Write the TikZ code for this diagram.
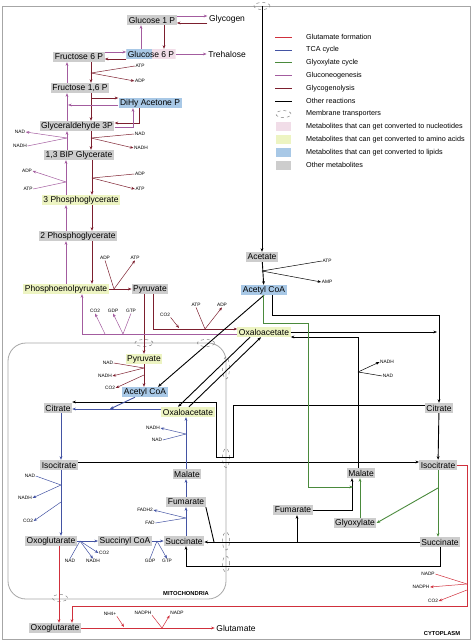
\documentclass[tikz,border=0pt]{standalone}
\usepackage{fontspec}
\setmainfont{Liberation Sans}
\usetikzlibrary{arrows.meta,shapes.geometric,calc}

\definecolor{glut}{HTML}{D0303C}
\definecolor{tca}{HTML}{4353A3}
\definecolor{glyx}{HTML}{4A8A3C}
\definecolor{gneo}{HTML}{A35C9F}
\definecolor{gcog}{HTML}{7C1F2E}
\definecolor{nucl}{HTML}{F1DDE8}
\definecolor{amin}{HTML}{EDF4C2}
\definecolor{lipd}{HTML}{A8C8E6}
\definecolor{othr}{HTML}{CDCDCD}

\begin{document}
\begin{tikzpicture}[x=1pt,y=-1pt,
    >={Stealth[length=3.6pt,width=2.8pt]},
    met/.style={inner xsep=1.5pt,inner ysep=1pt,minimum height=10pt,font=\fontsize{8.5}{9}\selectfont},
    oth/.style={met,fill=othr},
    nuc/.style={met,fill=nucl},
    ami/.style={met,fill=amin},
    lip/.style={met,fill=lipd},
    sm/.style={inner sep=0.5pt,font=\fontsize{4.8}{5}\selectfont},
    leg/.style={anchor=west,inner sep=0pt,font=\fontsize{7.2}{8}\selectfont},
    lk/.style={line width=0.9pt},
    br/.style={line width=0.5pt},
    tp/.style={draw=gray,dashed,ellipse,line width=0.5pt,inner sep=0pt}]
    \useasboundingbox (0,0) rectangle (474,644);
    % Frame and mitochondria
    \draw[gray!70,line width=0.8pt] (2,6) rectangle (470,639);
    \draw[gray!70,line width=0.8pt,rounded corners=18pt] (8,343) rectangle (226,599);
    \node[font=\fontsize{5.8}{6}\selectfont\bfseries] (mito) at (186,593) {MITOCHONDRIA};
    \node[font=\fontsize{5.8}{6}\selectfont\bfseries] (cyto) at (442,633) {CYTOPLASM};
    % Transporters
    \node[tp,minimum width=16pt,minimum height=7pt] (tr0) at (262,6) {};
    \node[tp,minimum width=18pt,minimum height=7pt] (tr1) at (144,343) {};
    \node[tp,minimum width=17pt,minimum height=7pt] (tr2) at (206,343) {};
    \node[tp,minimum width=7pt,minimum height=22pt] (tr3) at (226,368) {};
    \node[tp,minimum width=7pt,minimum height=19pt] (tr4) at (226,458) {};
    \node[tp,minimum width=7pt,minimum height=18pt] (tr5) at (226,541) {};
    \node[tp,minimum width=7pt,minimum height=16pt] (tr6) at (226,564) {};
    \node[tp,minimum width=15pt,minimum height=7pt] (tr7) at (60,598) {};

    % Legend
    \foreach \c/\t [count=\i] in {glut/Glutamate formation,tca/TCA cycle,glyx/Glyoxylate cycle,gneo/Gluconeogenesis,gcog/Glycogenolysis,black/Other reactions} {
        \draw[\c,line width=0.9pt] (275,{24.5+12.8*\i}) -- (292,{24.5+12.8*\i});
        \node[leg] (l\i) at (306,{24.5+12.8*\i}) {\t};
    }
    \node[tp,minimum width=15pt,minimum height=7pt] (l7a) at (283.5,114.1) {};
    \node[leg] (l7) at (306,114.1) {Membrane transporters};
    \foreach \f/\t [count=\i from 8] in {nucl/nucleotides,amin/amino acids,lipd/lipids} {
        \fill[\f] (276,{20+12.8*\i}) rectangle (291,{29+12.8*\i});
        \node[leg] (l\i) at (306,{24.5+12.8*\i}) {Metabolites that can get converted to \t};
    }
    \fill[othr] (276,160.8) rectangle (291,169.8);
    \node[leg] (l11) at (306,165.3) {Other metabolites};

    % Glycolysis metabolites
    \node (g1p) at (152,20) [oth] {Glucose 1 P};
    \node (glycogen) at (227,19) [met] {Glycogen};
    \node (g6p) at (151,54) [met,path picture={
        \fill[nucl] (path picture bounding box.south west) rectangle (path picture bounding box.north east);
        \fill[lipd] (path picture bounding box.south west) rectangle ($(path picture bounding box.north west)!0.52!(path picture bounding box.north east)$);}] {Glucose 6 P};
    \node (trehalose) at (227,54) [met] {Trehalose};
    \node (f6p) at (79,57) [oth] {Fructose 6 P};
    \node (f16p) at (80,88) [oth] {Fructose 1,6 P};
    \node (dhap) at (150,103) [lip] {DiHy Acetone P};
    \node (g3p) at (77,126) [oth] {Glyceraldehyde 3P};
    \node (bpg) at (79,155) [oth] {1,3 BIP Glycerate};
    \node (pg3) at (81,200) [ami] {3 Phosphoglycerate};
    \node (pg2) at (78,236) [oth] {2 Phosphoglycerate};
    \node (pep) at (66,289) [ami] {Phosphoenolpyruvate};
    \node (pyrc) at (150,289) [oth] {Pyruvate};
    \node (oaac) at (264,332) [ami] {Oxaloacetate};
    % Cytoplasm metabolites
    \node (acc) at (262,257) [oth] {Acetate};
    \node (accoac) at (264,290) [lip] {Acetyl CoA};
    \node (citc) at (439,408) [oth] {Citrate};
    \node (isoc) at (438,465) [oth] {Isocitrate};
    \node (malc) at (361,473) [oth] {Malate};
    \node (glyox) at (355,523) [oth] {Glyoxylate};
    \node (fumc) at (293,510) [oth] {Fumarate};
    \node (succc) at (440,542) [oth] {Succinate};
    \node (oxoc) at (55,628) [oth] {Oxoglutarate};
    \node (glu) at (236,628) [met] {Glutamate};
    % Mitochondria metabolites
    \node (pyrm) at (144,359) [ami] {Pyruvate};
    \node (accoam) at (145,392) [lip] {Acetyl CoA};
    \node (citm) at (58,408) [oth] {Citrate};
    \node (oaam) at (188,412) [ami] {Oxaloacetate};
    \node (isom) at (59,465) [oth] {Isocitrate};
    \node (malm) at (187,474) [oth] {Malate};
    \node (fumm) at (186,502) [oth] {Fumarate};
    \node (succm) at (184,541) [oth] {Succinate};
    \node (scoa) at (125,541) [oth] {Succinyl CoA};
    \node (oxom) at (51,541) [oth] {Oxoglutarate};

    % Cofactors
    \node (atp1) at (140,66) [sm] {ATP};
    \node (adp1) at (140,81) [sm] {ADP};
    \node (nad1) at (20,132) [sm] {NAD};
    \node (nadh1) at (20,146) [sm] {NADH};
    \node (nad1r) at (140,134) [sm] {NAD};
    \node (nadh1r) at (141,148) [sm] {NADH};
    \node (adp3) at (27,171) [sm] {ADP};
    \node (atp3) at (28,189) [sm] {ATP};
    \node (adp2) at (140,174) [sm] {ADP};
    \node (atp2) at (140,189) [sm] {ATP};
    \node (adp4) at (105,258) [sm] {ADP};
    \node (atp4) at (135,258) [sm] {ATP};
    \node (co2a) at (95,311) [sm] {CO2};
    \node (gdp1) at (113,311) [sm] {GDP};
    \node (gtp1) at (131,311) [sm] {GTP};
    \node (co2b) at (165,315) [sm] {CO2};
    \node (atp6) at (196,305) [sm] {ATP};
    \node (adp6) at (222,305) [sm] {ADP};
    \node (atp5) at (327,261) [sm] {ATP};
    \node (amp1) at (327,282) [sm] {AMP};
    \node (nad2) at (108,363) [sm] {NAD};
    \node (nadh2) at (105,376) [sm] {NADH};
    \node (co2c) at (110,388) [sm] {CO2};
    \node (nadh3) at (387,362) [sm] {NADH};
    \node (nad3) at (388,376) [sm] {NAD};
    \node (nadh5) at (153,428) [sm] {NADH};
    \node (nad5) at (157,440) [sm] {NAD};
    \node (nad4) at (30,476) [sm] {NAD};
    \node (nadh4) at (25,498) [sm] {NADH};
    \node (co2d) at (28,521) [sm] {CO2};
    \node (fadh2) at (145,510) [sm] {FADH2};
    \node (fad) at (150,523) [sm] {FAD};
    \node (nad6) at (70,561) [sm] {NAD};
    \node (nadh6) at (93,561) [sm] {NADH};
    \node (co2e) at (104,553) [sm] {CO2};
    \node (gdp2) at (150,561) [sm] {GDP};
    \node (gtp2) at (167,561) [sm] {GTP};
    \node (nadp1) at (428,574) [sm] {NADP};
    \node (nadph1) at (421,587) [sm] {NADPH};
    \node (co2f) at (433,601) [sm] {CO2};
    \node (nh4) at (110,614) [sm] {NH4+};
    \node (nadph2) at (143,613) [sm] {NADPH};
    \node (nadp2) at (177,613) [sm] {NADP};

    % Branch points
    \coordinate (k1) at (91,73);
    \coordinate (k2) at (91,98);
    \coordinate (k3) at (67,138);
    \coordinate (k4) at (91,138);
    \coordinate (k5) at (66,182);
    \coordinate (k6) at (92,178);
    \coordinate (k7) at (114,289);
    \coordinate (k8) at (105,334);
    \coordinate (k9) at (123,334);
    \coordinate (k10) at (179,328);
    \coordinate (k11) at (205,329);
    \coordinate (k12) at (262,271);
    \coordinate (k13) at (144,368);
    \coordinate (k14) at (144,375);
    \coordinate (k15) at (358,372);
    \coordinate (k16) at (437,332);
    \coordinate (k17) at (186,434);
    \coordinate (k18) at (61,485);
    \coordinate (k19) at (61,502);
    \coordinate (k20) at (80,541);
    \coordinate (k21) at (157,541);
    \coordinate (k22) at (186,518);
    \coordinate (k23) at (467,584);
    \coordinate (k24) at (467,590);
    \coordinate (k25) at (124,627);
    \coordinate (k26) at (162,628);
    \coordinate (k27) at (110,409);
    \coordinate (k28) at (438,488);
    \coordinate (k29) at (297,542);
    \coordinate (k30) at (214,542);
    \coordinate (k31) at (353,487);
    \coordinate (k32) at (68,105);

    % Glycogenolysis / glycolysis
    \draw[gcog,lk,->] (glycogen.west |- 0,23) -- (g1p.east |- 0,23);
    \draw[gcog,lk,->] (g1p.south -| 164,0) -- (g6p.north -| 164,0);
    \draw[gcog,lk,->] (g6p.west |- 0,59) -- (f6p.east |- 0,59);
    \draw[gcog,lk,->] (f6p.south -| 91,0) -- (f16p.north -| 91,0);
    \draw[gcog,br] (atp1.west) -- (k1);
    \draw[gcog,br,->] (k1) -- (adp1.west);
    \draw[gcog,lk,->] (f16p.south -| 91,0) -- (g3p.north -| 91,0);
    \draw[gcog,lk,->] (k2) -- (dhap.west |- k2);
    \draw[gcog,lk,->] (dhap.south -| 139,0) |- (g3p.east |- 0,123);
    \draw[gcog,lk,->] (g3p.south -| 91,0) -- (bpg.north -| 91,0);
    \draw[gcog,br] (nad1r.west) -- (k4);
    \draw[gcog,br,->] (k4) -- (nadh1r.west);
    \draw[gcog,lk,->] (bpg.south -| 92,0) -- (pg3.north -| 92,0);
    \draw[gcog,br] (adp2.west) -- (k6);
    \draw[gcog,br,->] (k6) -- (atp2.west);
    \draw[gcog,lk,->] (pg3.south -| 92,0) -- (pg2.north -| 92,0);
    \draw[gcog,lk,->] (pg2.south -| 92,0) -- (pep.north -| 92,0);
    \draw[gcog,lk,->] (pep.east) -- (pyrc.west);
    \draw[gcog,br] (adp4.south) -- (k7);
    \draw[gcog,br,->] (k7) -- (atp4.south);
    \draw[gcog,lk,->] (pyrc.south -| 153,0) |- (oaac.west |- 0,329);
    \draw[gcog,br,->] (co2b.south east) -- (k10);
    \draw[gcog,br] (atp6.south) -- (k11);
    \draw[gcog,br,->] (k11) -- (adp6.south);
    \draw[gcog,lk,->] (pyrc.south -| 144,0) -- (pyrm.north -| 144,0);
    \draw[gcog,lk,->] (pyrm.south -| 144,0) -- (accoam.north -| 144,0);
    \draw[gcog,br] (nad2.east) -- (k13);
    \draw[gcog,br,->] (k13) -- (nadh2.east);
    \draw[gcog,br,->] (k14) -- (co2c.east);

    % Gluconeogenesis
    \draw[gneo,lk,->] (g1p.east |- 0,16) -- (glycogen.west |- 0,16);
    \draw[gneo,lk,->] (g6p.north -| 141,0) -- (g1p.south -| 141,0);
    \draw[gneo,lk,->] (g6p.east) -- (trehalose.west);
    \draw[gneo,lk,->] (f6p.east |- 0,52) -- (g6p.west |- 0,52);
    \draw[gneo,lk,->] (f16p.north -| 67,0) -- (f6p.south -| 67,0);
    \draw[gneo,lk,->] (dhap.west |- k32) -- (k32);
    \draw[gneo,lk,->] (g3p.north -| 67,0) -- (f16p.south -| 67,0);
    \draw[gneo,lk,->] (g3p.east |- 0,127) -| (dhap.south -| 133,0);
    \draw[gneo,lk,->] (bpg.north -| 67,0) -- (g3p.south -| 67,0);
    \draw[gneo,br] (nadh1.east) -- (k3);
    \draw[gneo,br,->] (k3) -- (nad1.east);
    \draw[gneo,lk,->] (pg3.north -| 66,0) -- (bpg.south -| 66,0);
    \draw[gneo,br] (atp3.east) -- (k5);
    \draw[gneo,br,->] (k5) -- (adp3.east);
    \draw[gneo,lk,->] (pg2.north -| 66,0) -- (pg3.south -| 66,0);
    \draw[gneo,lk,->] (pep.north -| 66,0) -- (pg2.south -| 66,0);
    \draw[gneo,lk,->] (oaac.west |- 0,334) -| (pep.south -| 82,0);
    \draw[gneo,br,->] (k8) -- (co2a.south);
    \draw[gneo,br,->] (k9) -- (gdp1.south);
    \draw[gneo,br] (gtp1.south) -- (k9);

    % Other reactions
    \draw[lk,->] (tr0.center) -- (acc.north);
    \draw[lk,->] (acc) -- (accoac);
    \draw[br] (atp5.west) -- (k12);
    \draw[br,->] (k12) -- (amp1.west);
    \draw[lk,->] (accoac.south -| 272,0) -- (272,315) -| (citc.north);
    \draw[lk,->] (oaac.east |- 0,332) -- (k16);
    \draw[lk,->] (malc.north -| 358,0) |- (oaac.east |- 0,337);
    \draw[br,->] (k15) -- (nadh3.west);
    \draw[br] (nad3.west) -- (k15);
    \draw[lk,->] (accoac.south) -- (accoam.north -| 158,0);
    \draw[lk,->] (oaac.south -| 250,0) -- (oaam.north -| 178,0);
    \draw[lk,->] (oaam.north -| 189,0) -- (oaac.south -| 261,0);
    \draw[lk,->] (citc.west |- 0,405) -- (233,405) -- (233,457) -- (216,457) -- (216,402) -- (citm.east |- 0,402);
    \draw[lk,->] (isom.east |- 0,462) -- (isoc.west |- 0,462);
    \draw[lk,->] (citc) -- (isoc);
    \draw[lk,->] (fumc.east) -| (malc.south -| 352,0);
    \draw[lk,->] (succc.west |- 0,542) -- (succm.east |- 0,542);
    \draw[lk,->] (k29) -- (fumc.south -| k29);
    \draw[lk] (fumm.south east) -- (k30);
    \draw[lk,->] (succc.south) -- (440,566) -| (succm.south -| 186,0);

    % Glyoxylate cycle
    \draw[glyx,lk,->] (accoac.south -| 263,0) -- (263,323) -| (308,487) -- (k31);
    \draw[glyx,lk,->] (glyox.north -| 360,0) -- (malc.south -| 360,0);
    \draw[glyx,lk,->] (isoc.south) -- (succc.north -| isoc.south);
    \draw[glyx,lk,->] (k28) -- (glyox.east);

    % TCA cycle
    \draw[tca,lk,->] (oaam.west |- 0,409) -- (citm.east |- 0,409);
    \draw[tca,lk,->] (accoam.south -| 135,0) -- (k27);
    \draw[tca,lk,->] (citm.south -| 61,0) -- (isom.north -| 61,0);
    \draw[tca,lk,->] (isom.south -| 61,0) -- (oxom.north -| 61,0);
    \draw[tca,br] (nad4.east) -- (k18);
    \draw[tca,br,->] (k18) -- (nadh4.east);
    \draw[tca,br,->] (k19) -- (co2d.east);
    \draw[tca,lk,->] (oxom.east) -- (scoa.west);
    \draw[tca,br] (nad6.north) -- (k20);
    \draw[tca,br,->] (k20) -- (nadh6.north);
    \draw[tca,br,->] (k20) -- (co2e.west);
    \draw[tca,lk,->] (scoa.east) -- (succm.west);
    \draw[tca,br] (gdp2.north) -- (k21);
    \draw[tca,br,->] (k21) -- (gtp2.north);
    \draw[tca,lk,->] (succm.north -| 186,0) -- (fumm.south -| 186,0);
    \draw[tca,br,->] (k22) -- (fadh2.east);
    \draw[tca,br] (fad.east) -- (k22);
    \draw[tca,lk,->] (fumm.north -| 186,0) -- (malm.south -| 186,0);
    \draw[tca,lk,->] (malm.north -| 186,0) -- (oaam.south -| 186,0);
    \draw[tca,br,->] (k17) -- (nadh5.east);
    \draw[tca,br] (nad5.east) -- (k17);

    % Glutamate formation
    \draw[glut,lk,->] (oxom.south -| 59,0) -- (oxoc.north -| 59,0);
    \draw[glut,lk,->] (isoc.east) -- (467,465) |- (72,606) -- (oxoc.north -| 72,0);
    \draw[glut,br] (nadp1.east) -- (k23);
    \draw[glut,br,->] (k23) -- (nadph1.east);
    \draw[glut,br,->] (k24) -- (co2f.east);
    \draw[glut,lk,->] (oxoc.east) -- (glu.west);
    \draw[glut,br,->] (nh4.south east) -- (k25);
    \draw[glut,br] (nadph2.south east) -- (k26);
    \draw[glut,br,->] (k26) -- (nadp2.south west);
\end{tikzpicture}
\end{document}
